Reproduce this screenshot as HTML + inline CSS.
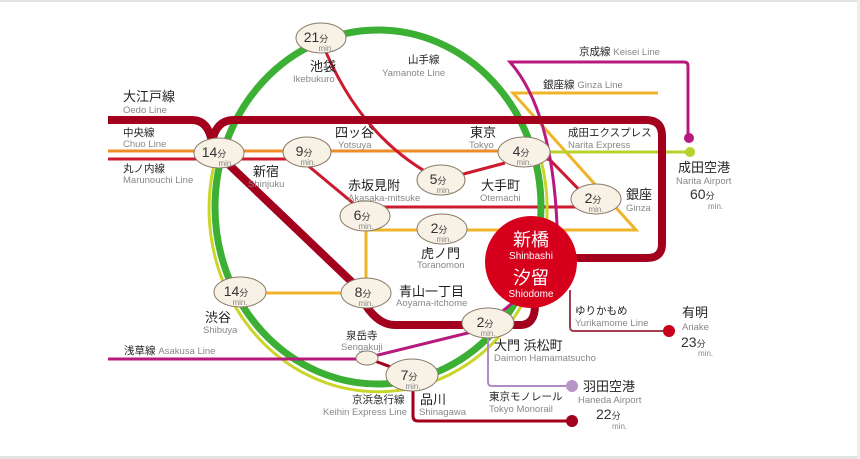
<!DOCTYPE html>
<html><head><meta charset="utf-8"><style>
html,body{margin:0;padding:0;background:#fff;}
svg{display:block;}
text{font-family:"Liberation Sans","Noto Sans CJK JP",sans-serif;}
.j{font-size:13px;fill:#222;}
.js{font-size:10.5px;fill:#222;}
.e{font-size:9.5px;fill:#888;}
.n{font-size:14px;fill:#333;}
.f{font-size:9px;fill:#333;}
.m{font-size:8px;fill:#888;}
</style></head><body>
<svg width="860" height="459" viewBox="0 0 860 459" xmlns="http://www.w3.org/2000/svg">
<rect x="0" y="0" width="860" height="2" fill="#e4e4e4"/>
<rect x="0" y="456" width="860" height="3" fill="#e4e4e4"/>
<rect x="857" y="0" width="3" height="459" fill="#eee"/>

<!-- Ginza line -->
<path d="M658,93 H513 L636,230 H366 V293 H240" fill="none" stroke="#f0b428" stroke-width="3"/>
<!-- Chuo line -->
<path d="M108,151 H524" fill="none" stroke="#f08c28" stroke-width="3"/>
<!-- Marunouchi -->
<path d="M108,159 H300 L365,213 V207 H596 L550,160 L524,152 M505,163 L441,180 Q360,140 321,40" fill="none" stroke="#cc1a2e" stroke-width="3"/>
<!-- Keihin-Tohoku (yellow-green) + Narita express -->
<path d="M214,165 A169,183 0 1 0 541,160" fill="none" stroke="#c8d62a" stroke-width="3"/>
<path d="M524,152 H690" fill="none" stroke="#b8d22a" stroke-width="3"/>
<circle cx="690" cy="152" r="5" fill="#b8d22a"/>
<!-- Yamanote -->
<ellipse cx="378" cy="207" rx="163" ry="177" fill="none" stroke="#3cb034" stroke-width="7"/>
<!-- Keisei / Asakusa -->
<path d="M688,138 V66 Q688,62 684,62 H510 Q552,110 557,225 L540,280 L480,330 L370,357 M367,359 H108" fill="none" stroke="#b8197e" stroke-width="3"/>
<circle cx="689" cy="138" r="5" fill="#b8197e"/>
<!-- Oedo -->
<path d="M108,120 H192 Q208,120 212,142 Q216,120 234,120 H646 Q662,120 662,136 V244 Q662,258 647,258 H570" fill="none" stroke="#a3001e" stroke-width="8"/>
<path d="M222,158 L355,285 Q372,325 395,325 H520 Q535,325 535,305" fill="none" stroke="#a3001e" stroke-width="8"/>
<!-- Keikyu -->
<path d="M367,358 L412,375 M413,380 V416 Q413,421 418,421 H572" fill="none" stroke="#a3001e" stroke-width="3"/>
<circle cx="572" cy="421" r="6" fill="#a3001e"/>
<!-- Yurikamome -->
<path d="M570,290 V327 Q570,331 574,331 H669" fill="none" stroke="#a04050" stroke-width="2"/>
<circle cx="669" cy="331" r="6" fill="#c8001e"/>
<!-- Monorail -->
<path d="M488,330 V382 Q488,386 492,386 H572" fill="none" stroke="#b08cc4" stroke-width="2"/>
<circle cx="572" cy="386" r="6" fill="#b795c8"/>

<!-- Shinbashi -->
<circle cx="531" cy="262" r="46" fill="#d7001c"/>
<text x="531" y="246" font-size="18" fill="#fff" text-anchor="middle">新橋</text>
<text x="531" y="259" font-size="10" fill="#fff" text-anchor="middle">Shinbashi</text>
<text x="531" y="284" font-size="18" fill="#fff" text-anchor="middle">汐留</text>
<text x="531" y="297" font-size="10" fill="#fff" text-anchor="middle">Shiodome</text>

<!-- Nodes -->
<g fill="#f8f1e6" stroke="#8a7a68" stroke-width="1">
<ellipse cx="321" cy="38" rx="25" ry="15"/>
<ellipse cx="219" cy="153" rx="25" ry="15"/>
<ellipse cx="307" cy="152" rx="24" ry="15"/>
<ellipse cx="524" cy="152" rx="26" ry="15"/>
<ellipse cx="441" cy="180" rx="24" ry="15"/>
<ellipse cx="365" cy="216" rx="25" ry="15"/>
<ellipse cx="442" cy="229" rx="25" ry="15"/>
<ellipse cx="596" cy="199" rx="25" ry="15"/>
<ellipse cx="240" cy="292" rx="26" ry="15"/>
<ellipse cx="366" cy="293" rx="25" ry="15"/>
<ellipse cx="488" cy="323" rx="26" ry="15"/>
<ellipse cx="412" cy="375" rx="26" ry="16"/>
<ellipse cx="367" cy="358" rx="11" ry="7"/>
</g>
<g text-anchor="middle">
<text x="316" y="42" class="n">21<tspan class="f">分</tspan></text><text x="326" y="51" class="m">min.</text>
<text x="214" y="157" class="n">14<tspan class="f">分</tspan></text><text x="226" y="166" class="m">min.</text>
<text x="304" y="156" class="n">9<tspan class="f">分</tspan></text><text x="308" y="165" class="m">min.</text>
<text x="521" y="156" class="n">4<tspan class="f">分</tspan></text><text x="524" y="165" class="m">min.</text>
<text x="438" y="184" class="n">5<tspan class="f">分</tspan></text><text x="444" y="193" class="m">min.</text>
<text x="362" y="220" class="n">6<tspan class="f">分</tspan></text><text x="366" y="229" class="m">min.</text>
<text x="439" y="233" class="n">2<tspan class="f">分</tspan></text><text x="444" y="242" class="m">min.</text>
<text x="593" y="203" class="n">2<tspan class="f">分</tspan></text><text x="596" y="212" class="m">min.</text>
<text x="236" y="296" class="n">14<tspan class="f">分</tspan></text><text x="240" y="305" class="m">min.</text>
<text x="363" y="297" class="n">8<tspan class="f">分</tspan></text><text x="366" y="306" class="m" fill="#444">min.</text>
<text x="485" y="327" class="n">2<tspan class="f">分</tspan></text><text x="488" y="336" class="m">min.</text>
<text x="409" y="380" class="n">7<tspan class="f">分</tspan></text><text x="413" y="389" class="m">min.</text>
</g>

<!-- Labels -->
<text x="310" y="71" class="j">池袋</text><text x="293" y="82" class="e">Ikebukuro</text>
<text x="408" y="63" class="js">山手線</text><text x="382" y="76" class="e" font-size="11">Yamanote Line</text>
<text x="123" y="101" class="j">大江戸線</text><text x="123" y="113" class="e" font-size="11">Oedo Line</text>
<text x="123" y="136" class="js" font-size="9.5">中央線</text><text x="123" y="147" class="e">Chuo Line</text>
<text x="123" y="172" class="js" font-size="9.5">丸ノ内線</text><text x="123" y="183" class="e">Marunouchi Line</text>
<text x="335" y="137" class="j">四ッ谷</text><text x="338" y="148" class="e">Yotsuya</text>
<text x="253" y="176" class="j">新宿</text><text x="248" y="187" class="e">Shinjuku</text>
<text x="470" y="137" class="j">東京</text><text x="469" y="148" class="e">Tokyo</text>
<text x="568" y="136" class="js">成田エクスプレス</text><text x="568" y="148" class="e">Narita Express</text>
<text x="348" y="190" class="j">赤坂見附</text><text x="348" y="201" class="e">Akasaka-mitsuke</text>
<text x="481" y="190" class="j">大手町</text><text x="480" y="201" class="e">Otemachi</text>
<text x="626" y="199" class="j">銀座</text><text x="626" y="211" class="e">Ginza</text>
<text x="421" y="258" class="j">虎ノ門</text><text x="417" y="268" class="e">Toranomon</text>
<text x="399" y="296" class="j">青山一丁目</text><text x="396" y="306" class="e">Aoyama-itchome</text>
<text x="205" y="322" class="j">渋谷</text><text x="203" y="333" class="e">Shibuya</text>
<text x="346" y="339" class="js" font-size="9.5">泉岳寺</text><text x="341" y="350" class="e">Sengakuji</text>
<text x="124" y="354" class="js" font-size="9.5">浅草線 <tspan class="e">Asakusa Line</tspan></text>
<text x="352" y="403" class="js" font-size="9.5">京浜急行線</text><text x="323" y="415" class="e">Keihin Express Line</text>
<text x="420" y="404" class="j">品川</text><text x="419" y="415" class="e">Shinagawa</text>
<text x="494" y="350" class="j">大門 浜松町</text><text x="494" y="361" class="e">Daimon Hamamatsucho</text>
<text x="489" y="400" class="js" font-size="9.5">東京モノレール</text><text x="489" y="412" class="e">Tokyo Monorail</text>
<text x="583" y="391" class="j">羽田空港</text><text x="578" y="403" class="e">Haneda Airport</text>
<text x="596" y="419" class="n" fill="#333">22<tspan class="f">分</tspan></text><text x="612" y="429" class="m">min.</text>
<text x="575" y="314" class="js" font-size="9.5">ゆりかもめ</text><text x="575" y="326" class="e">Yurikamome Line</text>
<text x="682" y="317" class="j">有明</text><text x="682" y="330" class="e">Ariake</text>
<text x="681" y="347" class="n">23<tspan class="f">分</tspan></text><text x="698" y="356" class="m">min.</text>
<text x="579" y="55" class="js" font-size="9.5">京成線 <tspan class="e">Keisei Line</tspan></text>
<text x="543" y="88" class="js" font-size="9.5">銀座線 <tspan class="e">Ginza Line</tspan></text>
<text x="678" y="172" class="j">成田空港</text><text x="676" y="184" class="e">Narita Airport</text>
<text x="690" y="199" class="n">60<tspan class="f">分</tspan></text><text x="708" y="209" class="m">min.</text>
</svg>
</body></html>
